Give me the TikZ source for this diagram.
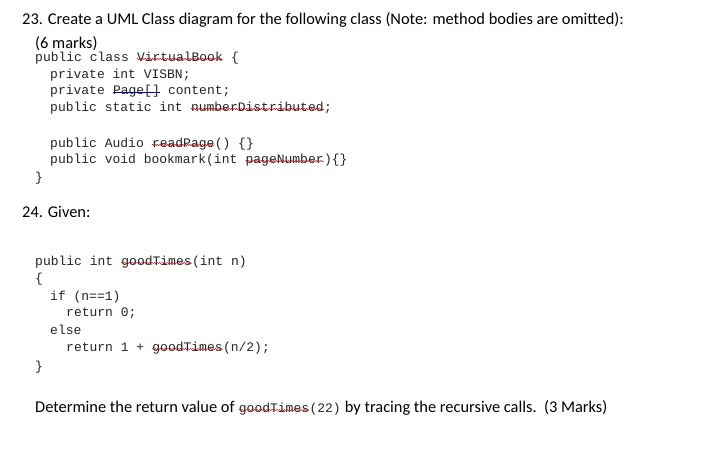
\documentclass[tikz,border=0pt]{standalone}
\usepackage{fontspec}
\setmainfont{Carlito}
\newfontfamily\codefont{Liberation Mono}
\usetikzlibrary{decorations.pathmorphing}
\begin{document}
\begin{tikzpicture}[x=1pt,y=-1pt,
  txt/.style={anchor=base west,inner sep=0pt,font=\fontsize{16.4}{18}\selectfont},
  code/.style={anchor=base west,inner sep=0pt,text=black!85,font=\codefont\fontsize{13}{14}\selectfont},
  squig/.style={draw=red!80!black,line width=0.5pt,decorate,decoration={snake,amplitude=0.6pt,segment length=2.5pt}},
  bline/.style={draw=blue!70!black,line width=0.7pt}]
\def\sp{7.8pt}
\useasboundingbox[fill=white] (0,0) rectangle (707,448);
\node[txt] (h1) at (22,24) {23. Create a UML Class diagram for the following class (Note: method bodies are omitted):};
\node[txt] (m1) at (35,48) {(6 marks)};
\node[code] (a1) at (35,61) {public class};
\node[code] (a1w) at ([xshift=\sp]a1.base east) {VirtualBook};
\node[code] (a1e) at (a1w.base east) {~\{};
\node[code] (a2) at (50,78) {private int VISBN;};
\node[code] (a3) at (50,94) {private};
\node[code] (a3w) at ([xshift=\sp]a3.base east) {Page[]};
\node[code] (a3e) at (a3w.base east) {~content;};
\node[code] (a4) at (50,111) {public static int};
\node[code] (a4w) at ([xshift=\sp]a4.base east) {numberDistributed};
\node[code] (a4e) at (a4w.base east) {;};
\node[code] (a5) at (50,147) {public Audio};
\node[code] (a5w) at ([xshift=\sp]a5.base east) {readPage};
\node[code] (a5e) at (a5w.base east) {()~\{\}};
\node[code] (a6) at (50,163) {public void bookmark(int};
\node[code] (a6w) at ([xshift=\sp]a6.base east) {pageNumber};
\node[code] (a6e) at (a6w.base east) {)\{\}};
\node[code] (a7) at (35,181) {\}};
\node[txt] (h2) at (22,217) {24. Given:};
\node[code] (b1) at (35,265) {public int};
\node[code] (b1w) at ([xshift=\sp]b1.base east) {goodTimes};
\node[code] (b1e) at (b1w.base east) {(int n)};
\node[code] (b2) at (35,282) {\{};
\node[code] (b3) at (50,300) {if (n==1)};
\node[code] (b4) at (66,316) {return 0;};
\node[code] (b5) at (50,334) {else};
\node[code] (b6) at (66,351) {return 1 +};
\node[code] (b6w) at ([xshift=\sp]b6.base east) {goodTimes};
\node[code] (b6e) at (b6w.base east) {(n/2);};
\node[code] (b7) at (35,370) {\}};
\node[txt] (d1) at (35,412) {Determine the return value of};
\node[code] (d1w) at ([xshift=4pt]d1.base east) {goodTimes};
\node[code] (d1c) at (d1w.base east) {(22)};
\node[txt] (d1e) at (d1c.base east) {~by tracing the recursive calls.\ \ (3 Marks)};
\foreach \w in {a1w,a4w,a5w,a6w,b1w,b6w,d1w}
  \draw[squig] ([yshift=2pt]\w.base west) -- ([yshift=2pt]\w.base east);
\draw[bline] ([yshift=2pt]a3w.base west) -- ([yshift=2pt]a3w.base east);
\end{tikzpicture}
\end{document}
